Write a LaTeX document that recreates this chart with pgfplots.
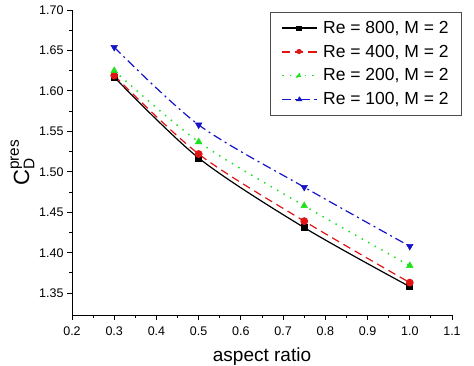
\documentclass[border=0pt]{standalone}
\usepackage{fontspec}
\setmainfont{Liberation Sans}
\usepackage{pgfplots}
\pgfplotsset{compat=1.18}
\definecolor{myred}{RGB}{225,20,20}
\definecolor{mygreen}{RGB}{30,225,30}
\definecolor{myblue}{RGB}{20,20,200}
\begin{document}
\begin{tikzpicture}
\path[use as bounding box] (-72pt,-51pt) rectangle (402pt,315pt);
\begin{axis}[
  scale only axis,
  width=380pt, height=305pt,
  xmin=0.2, xmax=1.1, ymin=1.323, ymax=1.70,
  axis lines=left,
  axis line style={-, line width=0.9pt},
  tick align=outside,
  major tick length=5pt, minor tick length=3pt,
  every tick/.style={black, line width=0.9pt},
  xtick={0.2,0.3,...,1.1},
  ytick={1.35,1.40,...,1.70},
  minor x tick num=1, minor y tick num=1,
  /pgf/number format/assume math mode=true,
  tick label style={font=\fontsize{12.5}{14}\selectfont},
  xticklabel style={yshift=-3pt, /pgf/number format/.cd, fixed, fixed zerofill, precision=1},
  yticklabel style={/pgf/number format/.cd, fixed, fixed zerofill, precision=2},
  xlabel={aspect ratio},
  xlabel style={font=\fontsize{19}{22}\selectfont, yshift=-5pt},
  ylabel={$\mathrm{C}_{\mathrm{D}}^{\mathrm{pres}}$},
  ylabel style={font=\fontsize{22}{26}\selectfont, yshift=-2pt},
  legend style={at={(1,1)}, anchor=north east, xshift=10pt, yshift=-2pt,
    font=\fontsize{17.5}{20}\selectfont, draw=black!70, line width=0.6pt,
    row sep=6pt, inner xsep=11pt, inner ysep=7pt},
  legend cell align=left,
  legend image code/.code={
    \draw[line width=1.4pt, mark repeat=2,mark phase=2, mark options={scale=0.65}] plot coordinates {(0cm,0cm) (0.6cm,0cm) (1.2cm,0cm)};
    \path (1.35cm,0cm);},
  every axis plot/.append style={line width=1.2pt, smooth},
  clip=false,
]
\addplot[black, solid, mark=square*, mark size=3pt, mark options={solid}] coordinates {
(0.3,1.617) (0.5,1.517) (0.75,1.431) (1.0,1.358)};
\addlegendentry{Re = 800, M = 2}
\addplot[myred, dash pattern=on 8pt off 5pt, mark=*, mark size=3.3pt, mark options={solid}] coordinates {
(0.3,1.619) (0.5,1.522) (0.75,1.439) (1.0,1.363)};
\addlegendentry{Re = 400, M = 2}
\addplot[mygreen, dash pattern=on 1.5pt off 6pt, line width=1.5pt, mark=triangle*, mark size=3.8pt, mark options={solid, line width=0.5pt}] coordinates {
(0.3,1.625) (0.5,1.537) (0.75,1.458) (1.0,1.384)};
\addlegendentry{Re = 200, M = 2}
\addplot[myblue, dash pattern=on 9pt off 4pt on 2pt off 4pt, mark=triangle*, mark size=3.8pt, mark options={solid, rotate=180, line width=0.5pt}] coordinates {
(0.3,1.654) (0.5,1.558) (0.75,1.481) (1.0,1.408)};
\addlegendentry{Re = 100, M = 2}
\end{axis}
\end{tikzpicture}
\end{document}
